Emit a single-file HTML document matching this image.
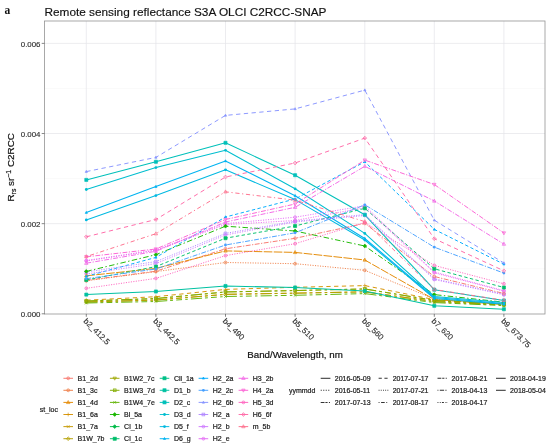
<!DOCTYPE html><html><head><meta charset="utf-8"><title>Remote sensing reflectance</title><style>html,body{margin:0;padding:0;background:#fff}svg{display:block}text{font-family:"Liberation Sans",sans-serif;fill:#1a1a1a}.tk{font-size:7.9px;fill:#303030;stroke:#303030;stroke-width:0.15px}.lg{font-size:7px;fill:#1a1a1a;stroke:#1a1a1a;stroke-width:0.2px}.at{fill:#111;stroke:#111;stroke-width:0.2px}</style></head><body>
<svg width="550" height="448" viewBox="0 0 550 448">
<rect width="550" height="448" fill="#fff"/>
<text x="4.6" y="13.7" style="font-family:'Liberation Serif',serif;font-weight:bold;font-size:11.5px;fill:#111">a</text>
<text x="44.5" y="15.8" style="font-size:11.8px;fill:#111;stroke:#111;stroke-width:0.15px" id="title">Remote sensing reflectance S3A OLCI C2RCC-SNAP</text>
<g><line x1="44.5" x2="545" y1="268.73" y2="268.73" stroke="#f4f4f4" stroke-width="0.5"/><line x1="44.5" x2="545" y1="178.59" y2="178.59" stroke="#f4f4f4" stroke-width="0.5"/><line x1="44.5" x2="545" y1="88.45" y2="88.45" stroke="#f4f4f4" stroke-width="0.5"/><line x1="44.5" x2="545" y1="223.66" y2="223.66" stroke="#e6e6ea" stroke-width="0.75"/><line x1="44.5" x2="545" y1="133.52" y2="133.52" stroke="#e6e6ea" stroke-width="0.75"/><line x1="44.5" x2="545" y1="43.38" y2="43.38" stroke="#e6e6ea" stroke-width="0.75"/><line x1="86.3" x2="86.3" y1="21" y2="314" stroke="#e6e6ea" stroke-width="0.75"/><line x1="155.9" x2="155.9" y1="21" y2="314" stroke="#e6e6ea" stroke-width="0.75"/><line x1="225.5" x2="225.5" y1="21" y2="314" stroke="#e6e6ea" stroke-width="0.75"/><line x1="295.1" x2="295.1" y1="21" y2="314" stroke="#e6e6ea" stroke-width="0.75"/><line x1="364.8" x2="364.8" y1="21" y2="314" stroke="#e6e6ea" stroke-width="0.75"/><line x1="434.3" x2="434.3" y1="21" y2="314" stroke="#e6e6ea" stroke-width="0.75"/><line x1="503.9" x2="503.9" y1="21" y2="314" stroke="#e6e6ea" stroke-width="0.75"/></g>
<g fill="none" stroke-linejoin="round" opacity="1">
<polyline points="86.3,280.4 155.9,271.2 225.5,248.8 295.1,238.3 364.8,223.4 434.3,276.5 503.9,293.5" stroke="#F8766D" stroke-width="0.95" stroke-dasharray="4.9 1.5 1.2 1.5"/>
<polyline points="86.3,280.8 155.9,271.6 225.5,262.5 295.1,263.7 364.8,270.3 434.3,299 503.9,304" stroke="#EF7F48" stroke-width="0.95" stroke-dasharray="1.1 1.4"/>
<polyline points="86.3,275.8 155.9,268.4 225.5,250.9 295.1,252.4 364.8,260 434.3,299.5 503.9,304.5" stroke="#E48800" stroke-width="0.95" stroke-dasharray="8.6 1.4"/>
<polyline points="86.3,300.2 155.9,296.7 225.5,289.4 295.1,287.3 364.8,285.6 434.3,299.6 503.9,304.3" stroke="#D69100" stroke-width="0.95" stroke-dasharray="4.3 3.46"/>
<polyline points="86.3,302 155.9,300 225.5,294.3 295.1,293.1 364.8,291.8 434.3,301.5 503.9,305.0" stroke="#C69900" stroke-width="0.95" stroke-dasharray="11.2 2.9 2.9 3.2 5.8 3.3 2.5 3.1"/>
<polyline points="86.3,302.1 155.9,300.1 225.5,294.4 295.1,293.2 364.8,291.9 434.3,301.6 503.9,305.1" stroke="#B4A000" stroke-width="0.95" stroke-dasharray="11.2 2.9 2.9 3.2 5.8 3.3 2.5 3.1"/>
<polyline points="86.3,301 155.9,298.5 225.5,291.9 295.1,290.5 364.8,288.9 434.3,300.4 503.9,304.4" stroke="#9EA700" stroke-width="0.95" stroke-dasharray="11.2 2.9 2.9 3.2 5.8 3.3 2.5 3.1"/>
<polyline points="86.3,301.1 155.9,298.6 225.5,292.0 295.1,290.6 364.8,289.0 434.3,300.5 503.9,304.5" stroke="#83AD00" stroke-width="0.95" stroke-dasharray="11.2 2.9 2.9 3.2 5.8 3.3 2.5 3.1"/>
<polyline points="86.3,303 155.9,301.5 225.5,296.5 295.1,295.3 364.8,293.6 434.3,302.6 503.9,305.6" stroke="#60B200" stroke-width="0.95" stroke-dasharray="11.2 2.9 2.9 3.2 5.8 3.3 2.5 3.1"/>
<polyline points="86.3,271.4 155.9,254.7 225.5,226.2 295.1,231 364.8,246 434.3,294.6 503.9,302.2" stroke="#19B700" stroke-width="0.95" stroke-dasharray="5.5 2.4 1.4 2.4"/>
<polyline points="86.3,280 155.9,266.6 225.5,238.2 295.1,226 364.8,208.3 434.3,268.8 503.9,287.5" stroke="#00BE6B" stroke-width="0.95" stroke-dasharray="3.4 2.4"/>
<polyline points="86.3,294.6 155.9,291.5 225.5,286 295.1,287.5 364.8,291 434.3,305.8 503.9,309.2" stroke="#00C1A2" stroke-width="1.05"/>
<polyline points="86.3,179.9 155.9,161.8 225.5,142.8 295.1,175.2 364.8,214.8 434.3,289.7 503.9,300.5" stroke="#00C0BA" stroke-width="1.05"/>
<polyline points="86.3,189.5 155.9,167.6 225.5,150.3 295.1,188.8 364.8,233.4 434.3,296.5 503.9,302.5" stroke="#00BECF" stroke-width="1.05"/>
<polyline points="86.3,219.9 155.9,195.6 225.5,169.8 295.1,199.6 364.8,240 434.3,298.5 503.9,304.3" stroke="#00B9E1" stroke-width="1.05"/>
<polyline points="86.3,212.6 155.9,186.6 225.5,161 295.1,195.7 364.8,238.5 434.3,297.5 503.9,303.5" stroke="#00B3F1" stroke-width="1.05"/>
<polyline points="86.3,276.3 155.9,257.4 225.5,217 295.1,199 364.8,161.8 434.3,229.4 503.9,264.2" stroke="#00ABFD" stroke-width="0.95" stroke-dasharray="3.4 2.4"/>
<polyline points="86.3,278.7 155.9,269 225.5,245 295.1,232.8 364.8,204.8 434.3,247.2 503.9,273.1" stroke="#46A0FF" stroke-width="0.95" stroke-dasharray="4.9 1.5 1.2 1.5"/>
<polyline points="86.3,171.6 155.9,157.4 225.5,115.4 295.1,108.9 364.8,90.1 434.3,220.2 503.9,263" stroke="#8794FF" stroke-width="0.95" stroke-dasharray="4.3 3.46"/>
<polyline points="86.3,272 155.9,261.6 225.5,233.4 295.1,221.2 364.8,214.6 434.3,278.7 503.9,294.3" stroke="#B086FF" stroke-width="0.95" stroke-dasharray="1.1 1.4"/>
<polyline points="86.3,274 155.9,263.6 225.5,235 295.1,222 364.8,215.5 434.3,279.5 503.9,294.8" stroke="#CE79FF" stroke-width="0.95" stroke-dasharray="1.1 1.4"/>
<polyline points="86.3,260.5 155.9,250 225.5,223.6 295.1,217.2 364.8,205.8 434.3,272 503.9,290.7" stroke="#E46DF6" stroke-width="0.95" stroke-dasharray="1.1 1.4"/>
<polyline points="86.3,261 155.9,250.4 225.5,224.6 295.1,220.5 364.8,207.6 434.3,272.8 503.9,291.2" stroke="#EE69EE" stroke-width="0.95" stroke-dasharray="1.1 1.4"/>
<polyline points="86.3,263.2 155.9,251.3 225.5,222 295.1,207.3 364.8,166.3 434.3,201 503.9,244.1" stroke="#F365E6" stroke-width="0.95" stroke-dasharray="4.9 1.5 1.2 1.5"/>
<polyline points="86.3,256.8 155.9,249 225.5,219.5 295.1,204 364.8,160.1 434.3,184.5 503.9,233" stroke="#FC61D4" stroke-width="0.95" stroke-dasharray="4.9 1.5 1.2 1.5"/>
<polyline points="86.3,288.3 155.9,278.4 225.5,255.6 295.1,243.7 364.8,222.5 434.3,265.4 503.9,283.8" stroke="#FF62BE" stroke-width="0.95" stroke-dasharray="1.1 1.4"/>
<polyline points="86.3,236.8 155.9,219.5 225.5,177 295.1,163 364.8,138.1 434.3,238.7 503.9,270.8" stroke="#FF67A6" stroke-width="0.95" stroke-dasharray="4.3 3.46"/>
<polyline points="86.3,256.6 155.9,233.7 225.5,191.8 295.1,200.2 364.8,221.6 434.3,289.5 503.9,300.3" stroke="#FE6E8B" stroke-width="0.95" stroke-dasharray="1.2 2.7 4.2 2.6"/>
<rect x="84.90" y="270.60" width="2.8" height="2.8" fill="#B086FF" fill-opacity="0.3" stroke="#B086FF" stroke-width="0.65"/>
<rect x="154.50" y="260.20" width="2.8" height="2.8" fill="#B086FF" fill-opacity="0.3" stroke="#B086FF" stroke-width="0.65"/>
<rect x="224.10" y="232.00" width="2.8" height="2.8" fill="#B086FF" fill-opacity="0.3" stroke="#B086FF" stroke-width="0.65"/>
<rect x="293.70" y="219.80" width="2.8" height="2.8" fill="#B086FF" fill-opacity="0.3" stroke="#B086FF" stroke-width="0.65"/>
<rect x="363.40" y="213.20" width="2.8" height="2.8" fill="#B086FF" fill-opacity="0.3" stroke="#B086FF" stroke-width="0.65"/>
<rect x="432.90" y="277.30" width="2.8" height="2.8" fill="#B086FF" fill-opacity="0.3" stroke="#B086FF" stroke-width="0.65"/>
<rect x="502.50" y="292.90" width="2.8" height="2.8" fill="#B086FF" fill-opacity="0.3" stroke="#B086FF" stroke-width="0.65"/>
<circle cx="86.3" cy="274" r="1.45" fill="#CE79FF" fill-opacity="0.3" stroke="#CE79FF" stroke-width="0.65"/>
<circle cx="155.9" cy="263.6" r="1.45" fill="#CE79FF" fill-opacity="0.3" stroke="#CE79FF" stroke-width="0.65"/>
<circle cx="225.5" cy="235" r="1.45" fill="#CE79FF" fill-opacity="0.3" stroke="#CE79FF" stroke-width="0.65"/>
<circle cx="295.1" cy="222" r="1.45" fill="#CE79FF" fill-opacity="0.3" stroke="#CE79FF" stroke-width="0.65"/>
<circle cx="364.8" cy="215.5" r="1.45" fill="#CE79FF" fill-opacity="0.3" stroke="#CE79FF" stroke-width="0.65"/>
<circle cx="434.3" cy="279.5" r="1.45" fill="#CE79FF" fill-opacity="0.3" stroke="#CE79FF" stroke-width="0.65"/>
<circle cx="503.9" cy="294.8" r="1.45" fill="#CE79FF" fill-opacity="0.3" stroke="#CE79FF" stroke-width="0.65"/>
<circle cx="86.3" cy="260.5" r="1.45" fill="#E46DF6" fill-opacity="0.3" stroke="#E46DF6" stroke-width="0.65"/>
<circle cx="155.9" cy="250" r="1.45" fill="#E46DF6" fill-opacity="0.3" stroke="#E46DF6" stroke-width="0.65"/>
<circle cx="225.5" cy="223.6" r="1.45" fill="#E46DF6" fill-opacity="0.3" stroke="#E46DF6" stroke-width="0.65"/>
<circle cx="295.1" cy="217.2" r="1.45" fill="#E46DF6" fill-opacity="0.3" stroke="#E46DF6" stroke-width="0.65"/>
<circle cx="364.8" cy="205.8" r="1.45" fill="#E46DF6" fill-opacity="0.3" stroke="#E46DF6" stroke-width="0.65"/>
<circle cx="434.3" cy="272" r="1.45" fill="#E46DF6" fill-opacity="0.3" stroke="#E46DF6" stroke-width="0.65"/>
<circle cx="503.9" cy="290.7" r="1.45" fill="#E46DF6" fill-opacity="0.3" stroke="#E46DF6" stroke-width="0.65"/>
<circle cx="86.3" cy="261" r="1.45" fill="#EE69EE" fill-opacity="0.3" stroke="#EE69EE" stroke-width="0.65"/>
<circle cx="155.9" cy="250.4" r="1.45" fill="#EE69EE" fill-opacity="0.3" stroke="#EE69EE" stroke-width="0.65"/>
<circle cx="225.5" cy="224.6" r="1.45" fill="#EE69EE" fill-opacity="0.3" stroke="#EE69EE" stroke-width="0.65"/>
<circle cx="295.1" cy="220.5" r="1.45" fill="#EE69EE" fill-opacity="0.3" stroke="#EE69EE" stroke-width="0.65"/>
<circle cx="364.8" cy="207.6" r="1.45" fill="#EE69EE" fill-opacity="0.3" stroke="#EE69EE" stroke-width="0.65"/>
<circle cx="434.3" cy="272.8" r="1.45" fill="#EE69EE" fill-opacity="0.3" stroke="#EE69EE" stroke-width="0.65"/>
<circle cx="503.9" cy="291.2" r="1.45" fill="#EE69EE" fill-opacity="0.3" stroke="#EE69EE" stroke-width="0.65"/>
<circle cx="86.3" cy="280.4" r="1.45" fill="#F8766D" fill-opacity="0.3" stroke="#F8766D" stroke-width="0.65"/>
<circle cx="155.9" cy="271.2" r="1.45" fill="#F8766D" fill-opacity="0.3" stroke="#F8766D" stroke-width="0.65"/>
<circle cx="225.5" cy="248.8" r="1.45" fill="#F8766D" fill-opacity="0.3" stroke="#F8766D" stroke-width="0.65"/>
<circle cx="295.1" cy="238.3" r="1.45" fill="#F8766D" fill-opacity="0.3" stroke="#F8766D" stroke-width="0.65"/>
<circle cx="364.8" cy="223.4" r="1.45" fill="#F8766D" fill-opacity="0.3" stroke="#F8766D" stroke-width="0.65"/>
<circle cx="434.3" cy="276.5" r="1.45" fill="#F8766D" fill-opacity="0.3" stroke="#F8766D" stroke-width="0.65"/>
<circle cx="503.9" cy="293.5" r="1.45" fill="#F8766D" fill-opacity="0.3" stroke="#F8766D" stroke-width="0.65"/>
<circle cx="86.3" cy="280.8" r="1.45" fill="#EF7F48" fill-opacity="0.3" stroke="#EF7F48" stroke-width="0.65"/>
<circle cx="155.9" cy="271.6" r="1.45" fill="#EF7F48" fill-opacity="0.3" stroke="#EF7F48" stroke-width="0.65"/>
<circle cx="225.5" cy="262.5" r="1.45" fill="#EF7F48" fill-opacity="0.3" stroke="#EF7F48" stroke-width="0.65"/>
<circle cx="295.1" cy="263.7" r="1.45" fill="#EF7F48" fill-opacity="0.3" stroke="#EF7F48" stroke-width="0.65"/>
<circle cx="364.8" cy="270.3" r="1.45" fill="#EF7F48" fill-opacity="0.3" stroke="#EF7F48" stroke-width="0.65"/>
<circle cx="434.3" cy="299" r="1.45" fill="#EF7F48" fill-opacity="0.3" stroke="#EF7F48" stroke-width="0.65"/>
<circle cx="503.9" cy="304" r="1.45" fill="#EF7F48" fill-opacity="0.3" stroke="#EF7F48" stroke-width="0.65"/>
<path d="M86.30,273.90 L88.01,276.98 L84.59,276.98Z" fill="#E48800" fill-opacity="0.3" stroke="#E48800" stroke-width="0.65"/>
<path d="M155.90,266.50 L157.61,269.58 L154.19,269.58Z" fill="#E48800" fill-opacity="0.3" stroke="#E48800" stroke-width="0.65"/>
<path d="M225.50,249.00 L227.21,252.08 L223.79,252.08Z" fill="#E48800" fill-opacity="0.3" stroke="#E48800" stroke-width="0.65"/>
<path d="M295.10,250.50 L296.81,253.58 L293.39,253.58Z" fill="#E48800" fill-opacity="0.3" stroke="#E48800" stroke-width="0.65"/>
<path d="M364.80,258.10 L366.51,261.18 L363.09,261.18Z" fill="#E48800" fill-opacity="0.3" stroke="#E48800" stroke-width="0.65"/>
<path d="M434.30,297.60 L436.01,300.68 L432.59,300.68Z" fill="#E48800" fill-opacity="0.3" stroke="#E48800" stroke-width="0.65"/>
<path d="M503.90,302.60 L505.61,305.68 L502.19,305.68Z" fill="#E48800" fill-opacity="0.3" stroke="#E48800" stroke-width="0.65"/>
<path d="M84.40,300.2 H88.20 M86.3,298.30 V302.10" fill="none" stroke="#D69100" stroke-width="0.65"/>
<path d="M154.00,296.7 H157.80 M155.9,294.80 V298.60" fill="none" stroke="#D69100" stroke-width="0.65"/>
<path d="M223.60,289.4 H227.40 M225.5,287.50 V291.30" fill="none" stroke="#D69100" stroke-width="0.65"/>
<path d="M293.20,287.3 H297.00 M295.1,285.40 V289.20" fill="none" stroke="#D69100" stroke-width="0.65"/>
<path d="M362.90,285.6 H366.70 M364.8,283.70 V287.50" fill="none" stroke="#D69100" stroke-width="0.65"/>
<path d="M432.40,299.6 H436.20 M434.3,297.70 V301.50" fill="none" stroke="#D69100" stroke-width="0.65"/>
<path d="M502.00,304.3 H505.80 M503.9,302.40 V306.20" fill="none" stroke="#D69100" stroke-width="0.65"/>
<path d="M84.90,300.60 L87.70,303.40 M84.90,303.40 L87.70,300.60" fill="none" stroke="#C69900" stroke-width="0.65"/>
<path d="M154.50,298.60 L157.30,301.40 M154.50,301.40 L157.30,298.60" fill="none" stroke="#C69900" stroke-width="0.65"/>
<path d="M224.10,292.90 L226.90,295.70 M224.10,295.70 L226.90,292.90" fill="none" stroke="#C69900" stroke-width="0.65"/>
<path d="M293.70,291.70 L296.50,294.50 M293.70,294.50 L296.50,291.70" fill="none" stroke="#C69900" stroke-width="0.65"/>
<path d="M363.40,290.40 L366.20,293.20 M363.40,293.20 L366.20,290.40" fill="none" stroke="#C69900" stroke-width="0.65"/>
<path d="M432.90,300.10 L435.70,302.90 M432.90,302.90 L435.70,300.10" fill="none" stroke="#C69900" stroke-width="0.65"/>
<path d="M502.50,303.60 L505.30,306.40 M502.50,306.40 L505.30,303.60" fill="none" stroke="#C69900" stroke-width="0.65"/>
<path d="M86.30,300.20 L88.20,302.10 L86.30,304.00 L84.40,302.10Z" fill="#B4A000" fill-opacity="0.3" stroke="#B4A000" stroke-width="0.65"/>
<path d="M155.90,298.20 L157.80,300.10 L155.90,302.00 L154.00,300.10Z" fill="#B4A000" fill-opacity="0.3" stroke="#B4A000" stroke-width="0.65"/>
<path d="M225.50,292.50 L227.40,294.40 L225.50,296.30 L223.60,294.40Z" fill="#B4A000" fill-opacity="0.3" stroke="#B4A000" stroke-width="0.65"/>
<path d="M295.10,291.30 L297.00,293.20 L295.10,295.10 L293.20,293.20Z" fill="#B4A000" fill-opacity="0.3" stroke="#B4A000" stroke-width="0.65"/>
<path d="M364.80,290.00 L366.70,291.90 L364.80,293.80 L362.90,291.90Z" fill="#B4A000" fill-opacity="0.3" stroke="#B4A000" stroke-width="0.65"/>
<path d="M434.30,299.70 L436.20,301.60 L434.30,303.50 L432.40,301.60Z" fill="#B4A000" fill-opacity="0.3" stroke="#B4A000" stroke-width="0.65"/>
<path d="M503.90,303.20 L505.80,305.10 L503.90,307.00 L502.00,305.10Z" fill="#B4A000" fill-opacity="0.3" stroke="#B4A000" stroke-width="0.65"/>
<path d="M86.30,302.90 L88.01,299.82 L84.59,299.82Z" fill="#9EA700" fill-opacity="0.3" stroke="#9EA700" stroke-width="0.65"/>
<path d="M155.90,300.40 L157.61,297.32 L154.19,297.32Z" fill="#9EA700" fill-opacity="0.3" stroke="#9EA700" stroke-width="0.65"/>
<path d="M225.50,293.80 L227.21,290.72 L223.79,290.72Z" fill="#9EA700" fill-opacity="0.3" stroke="#9EA700" stroke-width="0.65"/>
<path d="M295.10,292.40 L296.81,289.32 L293.39,289.32Z" fill="#9EA700" fill-opacity="0.3" stroke="#9EA700" stroke-width="0.65"/>
<path d="M364.80,290.80 L366.51,287.72 L363.09,287.72Z" fill="#9EA700" fill-opacity="0.3" stroke="#9EA700" stroke-width="0.65"/>
<path d="M434.30,302.30 L436.01,299.22 L432.59,299.22Z" fill="#9EA700" fill-opacity="0.3" stroke="#9EA700" stroke-width="0.65"/>
<path d="M503.90,306.30 L505.61,303.22 L502.19,303.22Z" fill="#9EA700" fill-opacity="0.3" stroke="#9EA700" stroke-width="0.65"/>
<rect x="84.90" y="299.70" width="2.8" height="2.8" fill="#83AD00" fill-opacity="0.3" stroke="#83AD00" stroke-width="0.65"/>
<rect x="154.50" y="297.20" width="2.8" height="2.8" fill="#83AD00" fill-opacity="0.3" stroke="#83AD00" stroke-width="0.65"/>
<rect x="224.10" y="290.60" width="2.8" height="2.8" fill="#83AD00" fill-opacity="0.3" stroke="#83AD00" stroke-width="0.65"/>
<rect x="293.70" y="289.20" width="2.8" height="2.8" fill="#83AD00" fill-opacity="0.3" stroke="#83AD00" stroke-width="0.65"/>
<rect x="363.40" y="287.60" width="2.8" height="2.8" fill="#83AD00" fill-opacity="0.3" stroke="#83AD00" stroke-width="0.65"/>
<rect x="432.90" y="299.10" width="2.8" height="2.8" fill="#83AD00" fill-opacity="0.3" stroke="#83AD00" stroke-width="0.65"/>
<rect x="502.50" y="303.10" width="2.8" height="2.8" fill="#83AD00" fill-opacity="0.3" stroke="#83AD00" stroke-width="0.65"/>
<path d="M84.90,301.60 L87.70,304.40 M84.90,304.40 L87.70,301.60" fill="none" stroke="#60B200" stroke-width="0.65"/>
<path d="M154.50,300.10 L157.30,302.90 M154.50,302.90 L157.30,300.10" fill="none" stroke="#60B200" stroke-width="0.65"/>
<path d="M224.10,295.10 L226.90,297.90 M224.10,297.90 L226.90,295.10" fill="none" stroke="#60B200" stroke-width="0.65"/>
<path d="M293.70,293.90 L296.50,296.70 M293.70,296.70 L296.50,293.90" fill="none" stroke="#60B200" stroke-width="0.65"/>
<path d="M363.40,292.20 L366.20,295.00 M363.40,295.00 L366.20,292.20" fill="none" stroke="#60B200" stroke-width="0.65"/>
<path d="M432.90,301.20 L435.70,304.00 M432.90,304.00 L435.70,301.20" fill="none" stroke="#60B200" stroke-width="0.65"/>
<path d="M502.50,304.20 L505.30,307.00 M502.50,307.00 L505.30,304.20" fill="none" stroke="#60B200" stroke-width="0.65"/>
<path d="M86.30,269.50 L88.20,271.40 L86.30,273.30 L84.40,271.40Z" fill="#19B700" stroke="#19B700" stroke-width="0.65"/>
<path d="M155.90,252.80 L157.80,254.70 L155.90,256.60 L154.00,254.70Z" fill="#19B700" stroke="#19B700" stroke-width="0.65"/>
<path d="M225.50,224.30 L227.40,226.20 L225.50,228.10 L223.60,226.20Z" fill="#19B700" stroke="#19B700" stroke-width="0.65"/>
<path d="M295.10,229.10 L297.00,231.00 L295.10,232.90 L293.20,231.00Z" fill="#19B700" stroke="#19B700" stroke-width="0.65"/>
<path d="M364.80,244.10 L366.70,246.00 L364.80,247.90 L362.90,246.00Z" fill="#19B700" stroke="#19B700" stroke-width="0.65"/>
<path d="M434.30,292.70 L436.20,294.60 L434.30,296.50 L432.40,294.60Z" fill="#19B700" stroke="#19B700" stroke-width="0.65"/>
<path d="M503.90,300.30 L505.80,302.20 L503.90,304.10 L502.00,302.20Z" fill="#19B700" stroke="#19B700" stroke-width="0.65"/>
<rect x="84.75" y="278.45" width="3.1" height="3.1" fill="#00BE6B" stroke="#00BE6B" stroke-width="0.65"/>
<rect x="154.35" y="265.05" width="3.1" height="3.1" fill="#00BE6B" stroke="#00BE6B" stroke-width="0.65"/>
<rect x="223.95" y="236.65" width="3.1" height="3.1" fill="#00BE6B" stroke="#00BE6B" stroke-width="0.65"/>
<rect x="293.55" y="224.45" width="3.1" height="3.1" fill="#00BE6B" stroke="#00BE6B" stroke-width="0.65"/>
<rect x="363.25" y="206.75" width="3.1" height="3.1" fill="#00BE6B" stroke="#00BE6B" stroke-width="0.65"/>
<rect x="432.75" y="267.25" width="3.1" height="3.1" fill="#00BE6B" stroke="#00BE6B" stroke-width="0.65"/>
<rect x="502.35" y="285.95" width="3.1" height="3.1" fill="#00BE6B" stroke="#00BE6B" stroke-width="0.65"/>
<rect x="84.75" y="293.05" width="3.1" height="3.1" fill="#00C1A2" stroke="#00C1A2" stroke-width="0.65"/>
<rect x="154.35" y="289.95" width="3.1" height="3.1" fill="#00C1A2" stroke="#00C1A2" stroke-width="0.65"/>
<rect x="223.95" y="284.45" width="3.1" height="3.1" fill="#00C1A2" stroke="#00C1A2" stroke-width="0.65"/>
<rect x="293.55" y="285.95" width="3.1" height="3.1" fill="#00C1A2" stroke="#00C1A2" stroke-width="0.65"/>
<rect x="363.25" y="289.45" width="3.1" height="3.1" fill="#00C1A2" stroke="#00C1A2" stroke-width="0.65"/>
<rect x="432.75" y="304.25" width="3.1" height="3.1" fill="#00C1A2" stroke="#00C1A2" stroke-width="0.65"/>
<rect x="502.35" y="307.65" width="3.1" height="3.1" fill="#00C1A2" stroke="#00C1A2" stroke-width="0.65"/>
<rect x="84.75" y="178.35" width="3.1" height="3.1" fill="#00C0BA" stroke="#00C0BA" stroke-width="0.65"/>
<rect x="154.35" y="160.25" width="3.1" height="3.1" fill="#00C0BA" stroke="#00C0BA" stroke-width="0.65"/>
<rect x="223.95" y="141.25" width="3.1" height="3.1" fill="#00C0BA" stroke="#00C0BA" stroke-width="0.65"/>
<rect x="293.55" y="173.65" width="3.1" height="3.1" fill="#00C0BA" stroke="#00C0BA" stroke-width="0.65"/>
<rect x="363.25" y="213.25" width="3.1" height="3.1" fill="#00C0BA" stroke="#00C0BA" stroke-width="0.65"/>
<rect x="432.75" y="288.15" width="3.1" height="3.1" fill="#00C0BA" stroke="#00C0BA" stroke-width="0.65"/>
<rect x="502.35" y="298.95" width="3.1" height="3.1" fill="#00C0BA" stroke="#00C0BA" stroke-width="0.65"/>
<circle cx="86.3" cy="189.5" r="1.4" fill="#00BECF"/>
<circle cx="155.9" cy="167.6" r="1.4" fill="#00BECF"/>
<circle cx="225.5" cy="150.3" r="1.4" fill="#00BECF"/>
<circle cx="295.1" cy="188.8" r="1.4" fill="#00BECF"/>
<circle cx="364.8" cy="233.4" r="1.4" fill="#00BECF"/>
<circle cx="434.3" cy="296.5" r="1.4" fill="#00BECF"/>
<circle cx="503.9" cy="302.5" r="1.4" fill="#00BECF"/>
<circle cx="86.3" cy="219.9" r="1.4" fill="#00B9E1"/>
<circle cx="155.9" cy="195.6" r="1.4" fill="#00B9E1"/>
<circle cx="225.5" cy="169.8" r="1.4" fill="#00B9E1"/>
<circle cx="295.1" cy="199.6" r="1.4" fill="#00B9E1"/>
<circle cx="364.8" cy="240" r="1.4" fill="#00B9E1"/>
<circle cx="434.3" cy="298.5" r="1.4" fill="#00B9E1"/>
<circle cx="503.9" cy="304.3" r="1.4" fill="#00B9E1"/>
<path d="M86.30,211.35 L87.42,213.38 L85.17,213.38Z" fill="#00B3F1" stroke="#00B3F1" stroke-width="0.65"/>
<path d="M155.90,185.35 L157.03,187.38 L154.78,187.38Z" fill="#00B3F1" stroke="#00B3F1" stroke-width="0.65"/>
<path d="M225.50,159.75 L226.62,161.78 L224.38,161.78Z" fill="#00B3F1" stroke="#00B3F1" stroke-width="0.65"/>
<path d="M295.10,194.45 L296.23,196.47 L293.98,196.47Z" fill="#00B3F1" stroke="#00B3F1" stroke-width="0.65"/>
<path d="M364.80,237.25 L365.93,239.28 L363.68,239.28Z" fill="#00B3F1" stroke="#00B3F1" stroke-width="0.65"/>
<path d="M434.30,296.25 L435.43,298.27 L433.18,298.27Z" fill="#00B3F1" stroke="#00B3F1" stroke-width="0.65"/>
<path d="M503.90,302.25 L505.02,304.27 L502.77,304.27Z" fill="#00B3F1" stroke="#00B3F1" stroke-width="0.65"/>
<path d="M86.30,275.05 L87.42,277.07 L85.17,277.07Z" fill="#00ABFD" stroke="#00ABFD" stroke-width="0.65"/>
<path d="M155.90,256.15 L157.03,258.17 L154.78,258.17Z" fill="#00ABFD" stroke="#00ABFD" stroke-width="0.65"/>
<path d="M225.50,215.75 L226.62,217.78 L224.38,217.78Z" fill="#00ABFD" stroke="#00ABFD" stroke-width="0.65"/>
<path d="M295.10,197.75 L296.23,199.78 L293.98,199.78Z" fill="#00ABFD" stroke="#00ABFD" stroke-width="0.65"/>
<path d="M364.80,160.55 L365.93,162.58 L363.68,162.58Z" fill="#00ABFD" stroke="#00ABFD" stroke-width="0.65"/>
<path d="M434.30,228.15 L435.43,230.18 L433.18,230.18Z" fill="#00ABFD" stroke="#00ABFD" stroke-width="0.65"/>
<path d="M503.90,262.95 L505.02,264.97 L502.77,264.97Z" fill="#00ABFD" stroke="#00ABFD" stroke-width="0.65"/>
<circle cx="86.3" cy="278.7" r="1.4" fill="#46A0FF"/>
<circle cx="155.9" cy="269" r="1.4" fill="#46A0FF"/>
<circle cx="225.5" cy="245" r="1.4" fill="#46A0FF"/>
<circle cx="295.1" cy="232.8" r="1.4" fill="#46A0FF"/>
<circle cx="364.8" cy="204.8" r="1.4" fill="#46A0FF"/>
<circle cx="434.3" cy="247.2" r="1.4" fill="#46A0FF"/>
<circle cx="503.9" cy="273.1" r="1.4" fill="#46A0FF"/>
<path d="M86.30,170.35 L87.42,172.38 L85.17,172.38Z" fill="#8794FF" stroke="#8794FF" stroke-width="0.65"/>
<path d="M155.90,156.15 L157.03,158.18 L154.78,158.18Z" fill="#8794FF" stroke="#8794FF" stroke-width="0.65"/>
<path d="M225.50,114.15 L226.62,116.18 L224.38,116.18Z" fill="#8794FF" stroke="#8794FF" stroke-width="0.65"/>
<path d="M295.10,107.65 L296.23,109.68 L293.98,109.68Z" fill="#8794FF" stroke="#8794FF" stroke-width="0.65"/>
<path d="M364.80,88.85 L365.93,90.88 L363.68,90.88Z" fill="#8794FF" stroke="#8794FF" stroke-width="0.65"/>
<path d="M434.30,218.95 L435.43,220.97 L433.18,220.97Z" fill="#8794FF" stroke="#8794FF" stroke-width="0.65"/>
<path d="M503.90,261.75 L505.02,263.77 L502.77,263.77Z" fill="#8794FF" stroke="#8794FF" stroke-width="0.65"/>
<path d="M86.30,261.30 L88.01,264.38 L84.59,264.38Z" fill="#F365E6" fill-opacity="0.3" stroke="#F365E6" stroke-width="0.65"/>
<path d="M155.90,249.40 L157.61,252.48 L154.19,252.48Z" fill="#F365E6" fill-opacity="0.3" stroke="#F365E6" stroke-width="0.65"/>
<path d="M225.50,220.10 L227.21,223.18 L223.79,223.18Z" fill="#F365E6" fill-opacity="0.3" stroke="#F365E6" stroke-width="0.65"/>
<path d="M295.10,205.40 L296.81,208.48 L293.39,208.48Z" fill="#F365E6" fill-opacity="0.3" stroke="#F365E6" stroke-width="0.65"/>
<path d="M364.80,164.40 L366.51,167.48 L363.09,167.48Z" fill="#F365E6" fill-opacity="0.3" stroke="#F365E6" stroke-width="0.65"/>
<path d="M434.30,199.10 L436.01,202.18 L432.59,202.18Z" fill="#F365E6" fill-opacity="0.3" stroke="#F365E6" stroke-width="0.65"/>
<path d="M503.90,242.20 L505.61,245.28 L502.19,245.28Z" fill="#F365E6" fill-opacity="0.3" stroke="#F365E6" stroke-width="0.65"/>
<path d="M86.30,258.70 L88.01,255.62 L84.59,255.62Z" fill="#FC61D4" fill-opacity="0.3" stroke="#FC61D4" stroke-width="0.65"/>
<path d="M155.90,250.90 L157.61,247.82 L154.19,247.82Z" fill="#FC61D4" fill-opacity="0.3" stroke="#FC61D4" stroke-width="0.65"/>
<path d="M225.50,221.40 L227.21,218.32 L223.79,218.32Z" fill="#FC61D4" fill-opacity="0.3" stroke="#FC61D4" stroke-width="0.65"/>
<path d="M295.10,205.90 L296.81,202.82 L293.39,202.82Z" fill="#FC61D4" fill-opacity="0.3" stroke="#FC61D4" stroke-width="0.65"/>
<path d="M364.80,162.00 L366.51,158.92 L363.09,158.92Z" fill="#FC61D4" fill-opacity="0.3" stroke="#FC61D4" stroke-width="0.65"/>
<path d="M434.30,186.40 L436.01,183.32 L432.59,183.32Z" fill="#FC61D4" fill-opacity="0.3" stroke="#FC61D4" stroke-width="0.65"/>
<path d="M503.90,234.90 L505.61,231.82 L502.19,231.82Z" fill="#FC61D4" fill-opacity="0.3" stroke="#FC61D4" stroke-width="0.65"/>
<circle cx="86.3" cy="288.3" r="1.45" fill="#FF62BE" fill-opacity="0.3" stroke="#FF62BE" stroke-width="0.65"/>
<circle cx="155.9" cy="278.4" r="1.45" fill="#FF62BE" fill-opacity="0.3" stroke="#FF62BE" stroke-width="0.65"/>
<circle cx="225.5" cy="255.6" r="1.45" fill="#FF62BE" fill-opacity="0.3" stroke="#FF62BE" stroke-width="0.65"/>
<circle cx="295.1" cy="243.7" r="1.45" fill="#FF62BE" fill-opacity="0.3" stroke="#FF62BE" stroke-width="0.65"/>
<circle cx="364.8" cy="222.5" r="1.45" fill="#FF62BE" fill-opacity="0.3" stroke="#FF62BE" stroke-width="0.65"/>
<circle cx="434.3" cy="265.4" r="1.45" fill="#FF62BE" fill-opacity="0.3" stroke="#FF62BE" stroke-width="0.65"/>
<circle cx="503.9" cy="283.8" r="1.45" fill="#FF62BE" fill-opacity="0.3" stroke="#FF62BE" stroke-width="0.65"/>
<path d="M86.30,234.90 L88.20,236.80 L86.30,238.70 L84.40,236.80Z" fill="#FF67A6" fill-opacity="0.3" stroke="#FF67A6" stroke-width="0.65"/>
<path d="M155.90,217.60 L157.80,219.50 L155.90,221.40 L154.00,219.50Z" fill="#FF67A6" fill-opacity="0.3" stroke="#FF67A6" stroke-width="0.65"/>
<path d="M225.50,175.10 L227.40,177.00 L225.50,178.90 L223.60,177.00Z" fill="#FF67A6" fill-opacity="0.3" stroke="#FF67A6" stroke-width="0.65"/>
<path d="M295.10,161.10 L297.00,163.00 L295.10,164.90 L293.20,163.00Z" fill="#FF67A6" fill-opacity="0.3" stroke="#FF67A6" stroke-width="0.65"/>
<path d="M364.80,136.20 L366.70,138.10 L364.80,140.00 L362.90,138.10Z" fill="#FF67A6" fill-opacity="0.3" stroke="#FF67A6" stroke-width="0.65"/>
<path d="M434.30,236.80 L436.20,238.70 L434.30,240.60 L432.40,238.70Z" fill="#FF67A6" fill-opacity="0.3" stroke="#FF67A6" stroke-width="0.65"/>
<path d="M503.90,268.90 L505.80,270.80 L503.90,272.70 L502.00,270.80Z" fill="#FF67A6" fill-opacity="0.3" stroke="#FF67A6" stroke-width="0.65"/>
<path d="M86.30,254.70 L88.01,257.78 L84.59,257.78Z" fill="#FE6E8B" fill-opacity="0.3" stroke="#FE6E8B" stroke-width="0.65"/>
<path d="M155.90,231.80 L157.61,234.88 L154.19,234.88Z" fill="#FE6E8B" fill-opacity="0.3" stroke="#FE6E8B" stroke-width="0.65"/>
<path d="M225.50,189.90 L227.21,192.98 L223.79,192.98Z" fill="#FE6E8B" fill-opacity="0.3" stroke="#FE6E8B" stroke-width="0.65"/>
<path d="M295.10,198.30 L296.81,201.38 L293.39,201.38Z" fill="#FE6E8B" fill-opacity="0.3" stroke="#FE6E8B" stroke-width="0.65"/>
<path d="M364.80,219.70 L366.51,222.78 L363.09,222.78Z" fill="#FE6E8B" fill-opacity="0.3" stroke="#FE6E8B" stroke-width="0.65"/>
<path d="M434.30,287.60 L436.01,290.68 L432.59,290.68Z" fill="#FE6E8B" fill-opacity="0.3" stroke="#FE6E8B" stroke-width="0.65"/>
<path d="M503.90,298.40 L505.61,301.48 L502.19,301.48Z" fill="#FE6E8B" fill-opacity="0.3" stroke="#FE6E8B" stroke-width="0.65"/>
</g>
<rect x="44.5" y="21" width="500.5" height="293" fill="none" stroke="#939393" stroke-width="0.8"/>
<line x1="41.7" x2="44.5" y1="313.80" y2="313.80" stroke="#555" stroke-width="0.7"/>
<text class="tk" x="40.5" y="317.00" text-anchor="end">0.000</text>
<line x1="41.7" x2="44.5" y1="223.66" y2="223.66" stroke="#555" stroke-width="0.7"/>
<text class="tk" x="40.5" y="226.86" text-anchor="end">0.002</text>
<line x1="41.7" x2="44.5" y1="133.52" y2="133.52" stroke="#555" stroke-width="0.7"/>
<text class="tk" x="40.5" y="136.72" text-anchor="end">0.004</text>
<line x1="41.7" x2="44.5" y1="43.38" y2="43.38" stroke="#555" stroke-width="0.7"/>
<text class="tk" x="40.5" y="46.58" text-anchor="end">0.006</text>
<line x1="86.3" x2="86.3" y1="314" y2="316.8" stroke="#555" stroke-width="0.7"/>
<text class="tk" transform="translate(83.1,321.5) rotate(45)" style="font-size:8px">b2_412.5</text>
<line x1="155.9" x2="155.9" y1="314" y2="316.8" stroke="#555" stroke-width="0.7"/>
<text class="tk" transform="translate(152.70000000000002,321.5) rotate(45)" style="font-size:8px">b3_442.5</text>
<line x1="225.5" x2="225.5" y1="314" y2="316.8" stroke="#555" stroke-width="0.7"/>
<text class="tk" transform="translate(222.3,321.5) rotate(45)" style="font-size:8px">b4_490</text>
<line x1="295.1" x2="295.1" y1="314" y2="316.8" stroke="#555" stroke-width="0.7"/>
<text class="tk" transform="translate(291.90000000000003,321.5) rotate(45)" style="font-size:8px">b5_510</text>
<line x1="364.8" x2="364.8" y1="314" y2="316.8" stroke="#555" stroke-width="0.7"/>
<text class="tk" transform="translate(361.6,321.5) rotate(45)" style="font-size:8px">b6_560</text>
<line x1="434.3" x2="434.3" y1="314" y2="316.8" stroke="#555" stroke-width="0.7"/>
<text class="tk" transform="translate(431.1,321.5) rotate(45)" style="font-size:8px">b7_620</text>
<line x1="503.9" x2="503.9" y1="314" y2="316.8" stroke="#555" stroke-width="0.7"/>
<text class="tk" transform="translate(500.7,321.5) rotate(45)" style="font-size:8px">b9_673.75</text>
<text id="xt" class="at" x="295" y="358.3" text-anchor="middle" style="font-size:9.75px;fill:#111">Band/Wavelength, nm</text>
<text id="yt" class="at" transform="translate(14.4,167.3) rotate(-90)" text-anchor="middle" style="font-size:9.9px;fill:#111">R<tspan dy="2" style="font-size:6.9px">rs</tspan><tspan dy="-2"> sr</tspan><tspan dy="-3.8" style="font-size:6.9px">−1</tspan><tspan dy="3.8"> C2RCC</tspan></text>
<text class="lg" x="39.7" y="411.9">st_loc</text>
<line x1="63.400000000000006" x2="73.0" y1="378.3" y2="378.3" stroke="#F8766D" stroke-width="1.05" opacity="0.92"/>
<circle cx="68.2" cy="378.3" r="1.45" fill="#F8766D" fill-opacity="0.3" stroke="#F8766D" stroke-width="0.65"/>
<text class="lg" x="77.60000000000001" y="380.8">B1_2d</text>
<line x1="63.400000000000006" x2="73.0" y1="390.3" y2="390.3" stroke="#EF7F48" stroke-width="1.05" opacity="0.92"/>
<circle cx="68.2" cy="390.3" r="1.45" fill="#EF7F48" fill-opacity="0.3" stroke="#EF7F48" stroke-width="0.65"/>
<text class="lg" x="77.60000000000001" y="392.8">B1_3c</text>
<line x1="63.400000000000006" x2="73.0" y1="402.4" y2="402.4" stroke="#E48800" stroke-width="1.05" opacity="0.92"/>
<path d="M68.20,400.50 L69.91,403.58 L66.49,403.58Z" fill="#E48800" fill-opacity="0.3" stroke="#E48800" stroke-width="0.65"/>
<text class="lg" x="77.60000000000001" y="404.9">B1_4d</text>
<line x1="63.400000000000006" x2="73.0" y1="414.5" y2="414.5" stroke="#D69100" stroke-width="1.05" opacity="0.92"/>
<path d="M66.30,414.5 H70.10 M68.2,412.60 V416.40" fill="none" stroke="#D69100" stroke-width="0.65"/>
<text class="lg" x="77.60000000000001" y="417.0">B1_6a</text>
<line x1="63.400000000000006" x2="73.0" y1="426.6" y2="426.6" stroke="#C69900" stroke-width="1.05" opacity="0.92"/>
<path d="M66.80,425.20 L69.60,428.00 M66.80,428.00 L69.60,425.20" fill="none" stroke="#C69900" stroke-width="0.65"/>
<text class="lg" x="77.60000000000001" y="429.1">B1_7a</text>
<line x1="63.400000000000006" x2="73.0" y1="438.7" y2="438.7" stroke="#B4A000" stroke-width="1.05" opacity="0.92"/>
<path d="M68.20,436.80 L70.10,438.70 L68.20,440.60 L66.30,438.70Z" fill="#B4A000" fill-opacity="0.3" stroke="#B4A000" stroke-width="0.65"/>
<text class="lg" x="77.60000000000001" y="441.2">B1W_7b</text>
<line x1="109.9" x2="119.5" y1="378.3" y2="378.3" stroke="#9EA700" stroke-width="1.05" opacity="0.92"/>
<path d="M114.70,380.20 L116.41,377.12 L112.99,377.12Z" fill="#9EA700" fill-opacity="0.3" stroke="#9EA700" stroke-width="0.65"/>
<text class="lg" x="124.10000000000001" y="380.8">B1W2_7c</text>
<line x1="109.9" x2="119.5" y1="390.3" y2="390.3" stroke="#83AD00" stroke-width="1.05" opacity="0.92"/>
<rect x="113.30" y="388.90" width="2.8" height="2.8" fill="#83AD00" fill-opacity="0.3" stroke="#83AD00" stroke-width="0.65"/>
<text class="lg" x="124.10000000000001" y="392.8">B1W3_7d</text>
<line x1="109.9" x2="119.5" y1="402.4" y2="402.4" stroke="#60B200" stroke-width="1.05" opacity="0.92"/>
<path d="M113.30,401.00 L116.10,403.80 M113.30,403.80 L116.10,401.00" fill="none" stroke="#60B200" stroke-width="0.65"/>
<text class="lg" x="124.10000000000001" y="404.9">B1W4_7e</text>
<line x1="109.9" x2="119.5" y1="414.5" y2="414.5" stroke="#19B700" stroke-width="1.05" opacity="0.92"/>
<path d="M114.70,412.60 L116.60,414.50 L114.70,416.40 L112.80,414.50Z" fill="#19B700" stroke="#19B700" stroke-width="0.65"/>
<text class="lg" x="124.10000000000001" y="417.0">Bl_5a</text>
<line x1="109.9" x2="119.5" y1="426.6" y2="426.6" stroke="#00BB48" stroke-width="1.05" opacity="0.92"/>
<path d="M114.70,424.70 L116.60,426.60 L114.70,428.50 L112.80,426.60Z" fill="#00BB48" stroke="#00BB48" stroke-width="0.65"/>
<text class="lg" x="124.10000000000001" y="429.1">Cl_1b</text>
<line x1="109.9" x2="119.5" y1="438.7" y2="438.7" stroke="#00BE6B" stroke-width="1.05" opacity="0.92"/>
<rect x="113.15" y="437.15" width="3.1" height="3.1" fill="#00BE6B" stroke="#00BE6B" stroke-width="0.65"/>
<text class="lg" x="124.10000000000001" y="441.2">Cl_1c</text>
<line x1="159.7" x2="169.3" y1="378.3" y2="378.3" stroke="#00C088" stroke-width="1.05" opacity="0.92"/>
<rect x="162.95" y="376.75" width="3.1" height="3.1" fill="#00C088" stroke="#00C088" stroke-width="0.65"/>
<text class="lg" x="173.9" y="380.8">Cll_1a</text>
<line x1="159.7" x2="169.3" y1="390.3" y2="390.3" stroke="#00C1A2" stroke-width="1.05" opacity="0.92"/>
<rect x="162.95" y="388.75" width="3.1" height="3.1" fill="#00C1A2" stroke="#00C1A2" stroke-width="0.65"/>
<text class="lg" x="173.9" y="392.8">D1_b</text>
<line x1="159.7" x2="169.3" y1="402.4" y2="402.4" stroke="#00C0BA" stroke-width="1.05" opacity="0.92"/>
<rect x="162.95" y="400.85" width="3.1" height="3.1" fill="#00C0BA" stroke="#00C0BA" stroke-width="0.65"/>
<text class="lg" x="173.9" y="404.9">D2_c</text>
<line x1="159.7" x2="169.3" y1="414.5" y2="414.5" stroke="#00BECF" stroke-width="1.05" opacity="0.92"/>
<circle cx="164.5" cy="414.5" r="1.4" fill="#00BECF"/>
<text class="lg" x="173.9" y="417.0">D3_d</text>
<line x1="159.7" x2="169.3" y1="426.6" y2="426.6" stroke="#00B9E1" stroke-width="1.05" opacity="0.92"/>
<circle cx="164.5" cy="426.6" r="1.4" fill="#00B9E1"/>
<text class="lg" x="173.9" y="429.1">D5_f</text>
<line x1="159.7" x2="169.3" y1="438.7" y2="438.7" stroke="#00B3F1" stroke-width="1.05" opacity="0.92"/>
<path d="M164.50,437.45 L165.62,439.47 L163.38,439.47Z" fill="#00B3F1" stroke="#00B3F1" stroke-width="0.65"/>
<text class="lg" x="173.9" y="441.2">D6_g</text>
<line x1="198.6" x2="208.20000000000002" y1="378.3" y2="378.3" stroke="#00ABFD" stroke-width="1.05" opacity="0.92"/>
<path d="M203.40,377.05 L204.53,379.07 L202.28,379.07Z" fill="#00ABFD" stroke="#00ABFD" stroke-width="0.65"/>
<text class="lg" x="212.8" y="380.8">H2_2a</text>
<line x1="198.6" x2="208.20000000000002" y1="390.3" y2="390.3" stroke="#46A0FF" stroke-width="1.05" opacity="0.92"/>
<circle cx="203.4" cy="390.3" r="1.4" fill="#46A0FF"/>
<text class="lg" x="212.8" y="392.8">H2_2c</text>
<line x1="198.6" x2="208.20000000000002" y1="402.4" y2="402.4" stroke="#8794FF" stroke-width="1.05" opacity="0.92"/>
<path d="M203.40,401.15 L204.53,403.17 L202.28,403.17Z" fill="#8794FF" stroke="#8794FF" stroke-width="0.65"/>
<text class="lg" x="212.8" y="404.9">H2_6b</text>
<line x1="198.6" x2="208.20000000000002" y1="414.5" y2="414.5" stroke="#B086FF" stroke-width="1.05" opacity="0.92"/>
<rect x="202.00" y="413.10" width="2.8" height="2.8" fill="#B086FF" fill-opacity="0.3" stroke="#B086FF" stroke-width="0.65"/>
<text class="lg" x="212.8" y="417.0">H2_a</text>
<line x1="198.6" x2="208.20000000000002" y1="426.6" y2="426.6" stroke="#CE79FF" stroke-width="1.05" opacity="0.92"/>
<circle cx="203.4" cy="426.6" r="1.45" fill="#CE79FF" fill-opacity="0.3" stroke="#CE79FF" stroke-width="0.65"/>
<text class="lg" x="212.8" y="429.1">H2_b</text>
<line x1="198.6" x2="208.20000000000002" y1="438.7" y2="438.7" stroke="#E46DF6" stroke-width="1.05" opacity="0.92"/>
<circle cx="203.4" cy="438.7" r="1.45" fill="#E46DF6" fill-opacity="0.3" stroke="#E46DF6" stroke-width="0.65"/>
<text class="lg" x="212.8" y="441.2">H2_e</text>
<line x1="238.6" x2="248.20000000000002" y1="378.3" y2="378.3" stroke="#F365E6" stroke-width="1.05" opacity="0.92"/>
<path d="M243.40,376.40 L245.11,379.48 L241.69,379.48Z" fill="#F365E6" fill-opacity="0.3" stroke="#F365E6" stroke-width="0.65"/>
<text class="lg" x="252.8" y="380.8">H3_2b</text>
<line x1="238.6" x2="248.20000000000002" y1="390.3" y2="390.3" stroke="#FC61D4" stroke-width="1.05" opacity="0.92"/>
<path d="M243.40,392.20 L245.11,389.12 L241.69,389.12Z" fill="#FC61D4" fill-opacity="0.3" stroke="#FC61D4" stroke-width="0.65"/>
<text class="lg" x="252.8" y="392.8">H4_2a</text>
<line x1="238.6" x2="248.20000000000002" y1="402.4" y2="402.4" stroke="#FF62BE" stroke-width="1.05" opacity="0.92"/>
<circle cx="243.4" cy="402.4" r="1.45" fill="#FF62BE" fill-opacity="0.3" stroke="#FF62BE" stroke-width="0.65"/>
<text class="lg" x="252.8" y="404.9">H5_3d</text>
<line x1="238.6" x2="248.20000000000002" y1="414.5" y2="414.5" stroke="#FF67A6" stroke-width="1.05" opacity="0.92"/>
<path d="M243.40,412.60 L245.30,414.50 L243.40,416.40 L241.50,414.50Z" fill="#FF67A6" fill-opacity="0.3" stroke="#FF67A6" stroke-width="0.65"/>
<text class="lg" x="252.8" y="417.0">H6_6f</text>
<line x1="238.6" x2="248.20000000000002" y1="426.6" y2="426.6" stroke="#FE6E8B" stroke-width="1.05" opacity="0.92"/>
<path d="M243.40,424.70 L245.11,427.78 L241.69,427.78Z" fill="#FE6E8B" fill-opacity="0.3" stroke="#FE6E8B" stroke-width="0.65"/>
<text class="lg" x="252.8" y="429.1">m_5b</text>
<text class="lg" x="288.9" y="392.8">yymmdd</text>
<line x1="320.7" x2="330.4" y1="378.3" y2="378.3" stroke="#333" stroke-width="1.05"/>
<text class="lg" x="334.8" y="380.8">2016-05-09</text>
<line x1="320.7" x2="330.4" y1="390.3" y2="390.3" stroke="#333" stroke-width="1.05" stroke-dasharray="1.1 1.4"/>
<text class="lg" x="334.8" y="392.8">2016-05-11</text>
<line x1="320.7" x2="330.4" y1="402.4" y2="402.4" stroke="#333" stroke-width="1.05" stroke-dasharray="3.8 0.9 2.2 1.3 1.1 1"/>
<text class="lg" x="334.8" y="404.9">2017-07-13</text>
<line x1="378.6" x2="388.3" y1="378.3" y2="378.3" stroke="#333" stroke-width="1.05" stroke-dasharray="3.2 2.6"/>
<text class="lg" x="392.70000000000005" y="380.8">2017-07-17</text>
<line x1="378.6" x2="388.3" y1="390.3" y2="390.3" stroke="#333" stroke-width="1.05" stroke-dasharray="0.9 1.3"/>
<text class="lg" x="392.70000000000005" y="392.8">2017-07-21</text>
<line x1="378.6" x2="388.3" y1="402.4" y2="402.4" stroke="#333" stroke-width="1.05" stroke-dasharray="0.9 1.6 3.6 1.6 0.9 1.5"/>
<text class="lg" x="392.70000000000005" y="404.9">2017-08-17</text>
<line x1="437.5" x2="447.2" y1="378.3" y2="378.3" stroke="#333" stroke-width="1.05" stroke-dasharray="3.8 0.9 2.2 1.3 1.1 1"/>
<text class="lg" x="451.6" y="380.8">2017-08-21</text>
<line x1="437.5" x2="447.2" y1="390.3" y2="390.3" stroke="#333" stroke-width="1.05" stroke-dasharray="0.9 1.4 4.3 1.3 1.1 1"/>
<text class="lg" x="451.6" y="392.8">2018-04-13</text>
<line x1="437.5" x2="447.2" y1="402.4" y2="402.4" stroke="#333" stroke-width="1.05" stroke-dasharray="0.9 1.4 0.9 1.2 2 1.6 0.9 0.5 0.9 1"/>
<text class="lg" x="451.6" y="404.9">2018-04-17</text>
<line x1="496.0" x2="505.7" y1="378.3" y2="378.3" stroke="#333" stroke-width="1.05"/>
<text class="lg" x="510.1" y="380.8">2018-04-19</text>
<line x1="496.0" x2="505.7" y1="390.3" y2="390.3" stroke="#333" stroke-width="1.05"/>
<text class="lg" x="510.1" y="392.8">2018-05-04</text>
</svg></body></html>
